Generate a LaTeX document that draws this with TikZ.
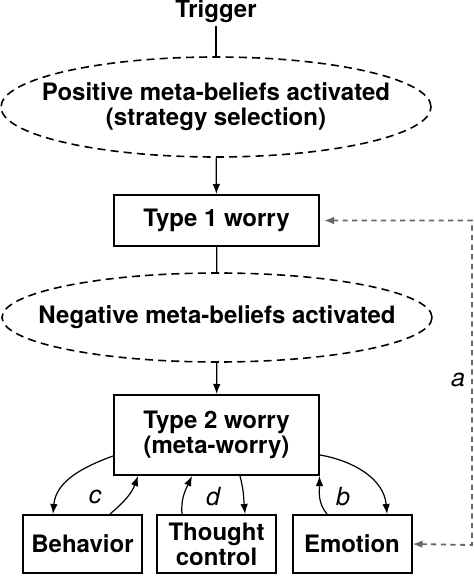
\documentclass[tikz,border=0pt]{standalone}
\usepackage{fontspec}
\setmainfont{TeX Gyre Heros}
\usetikzlibrary{arrows.meta,shapes.geometric}
\begin{document}
\begin{tikzpicture}[x=0.5pt,y=-0.5pt,
    every node/.style={font=\fontsize{12}{12.5}\selectfont\bfseries},
    belief/.style={ellipse,draw,dashed,dash pattern=on 4pt off 2.6pt,line width=0.8pt,minimum width=215pt,inner sep=0pt},
    worrybox/.style={rectangle,draw,line width=1pt,minimum width=102.5pt,align=center},
    outbox/.style={rectangle,draw,line width=1pt,minimum width=59.5pt,minimum height=29pt,align=center},
    link/.style={line width=0.6pt,-{Latex[length=5pt,width=3.8pt]}},
    feedback/.style={gray!80!black,line width=0.9pt,dash pattern=on 2.6pt off 2.2pt,{Latex[length=5pt,width=3.8pt]}-{Latex[length=5pt,width=3.8pt]}},
    tag/.style={font=\fontsize{12.5}{14}\selectfont\itshape}]
    \useasboundingbox (0,0) rectangle (474,576);
    \node [inner sep=1.5pt] (trigger) at (216,11) {Trigger};
    \node [belief,minimum height=50pt] (pos) at (216,107) {};
    \node [align=center] (postext) at (pos) {Positive meta-beliefs activated\\(strategy selection)};
    \node [worrybox,minimum height=25.5pt] (type1) at (216.5,220.5) {Type 1 worry};
    \node [belief,minimum height=44.5pt] (neg) at (217,317.5) {};
    \node (negtext) at (neg) {Negative meta-beliefs activated};
    \node [worrybox,minimum height=40pt] (type2) at (216.5,435) {Type 2 worry\\(meta-worry)};
    \node [outbox] (behavior) at (82.5,544) {Behavior};
    \node [outbox] (thought) at (216.5,544) {Thought\\control};
    \node [outbox] (emotion) at (352,544) {Emotion};
    % main chain
    \draw [line width=0.6pt] (trigger.south) -- (pos.north);
    \draw [link] (pos) -- (type1);
    \draw [line width=0.6pt] (type1) -- (neg);
    \draw [link] (neg) -- (type2);
    % loops c, d, b
    \draw [link] ([yshift=-10.5pt]type2.west) to[out=200,in=85] ([xshift=-14.75pt]behavior.north);
    \draw [link] ([xshift=13.75pt]behavior.north) to[out=40,in=-110] ([xshift=-39.25pt]type2.south);
    \node [tag] (c) at (95,497) {c};
    \draw [link] ([xshift=-17.25pt]thought.north) to[out=95,in=-115] ([xshift=-12.25pt]type2.south);
    \draw [link] ([xshift=11.75pt]type2.south) to[out=-75,in=95] ([xshift=14.25pt]thought.north);
    \node [tag] (d) at (213,497) {d};
    \draw [link] ([xshift=-12.5pt]emotion.north) to[out=130,in=-90] ([xshift=51.5pt]type2.south);
    \draw [link] ([yshift=-10pt]type2.east) to[out=-10,in=95] ([xshift=17.5pt]emotion.north);
    \node [tag] (b) at (343,497) {b};
    % feedback a
    \coordinate (fbcorner) at (472,545);
    \draw [feedback,shorten >=2pt] (emotion.east) -- (fbcorner) |- (type1.east);
    \node [tag] (a) at (458,380) {a};
\end{tikzpicture}
\end{document}
